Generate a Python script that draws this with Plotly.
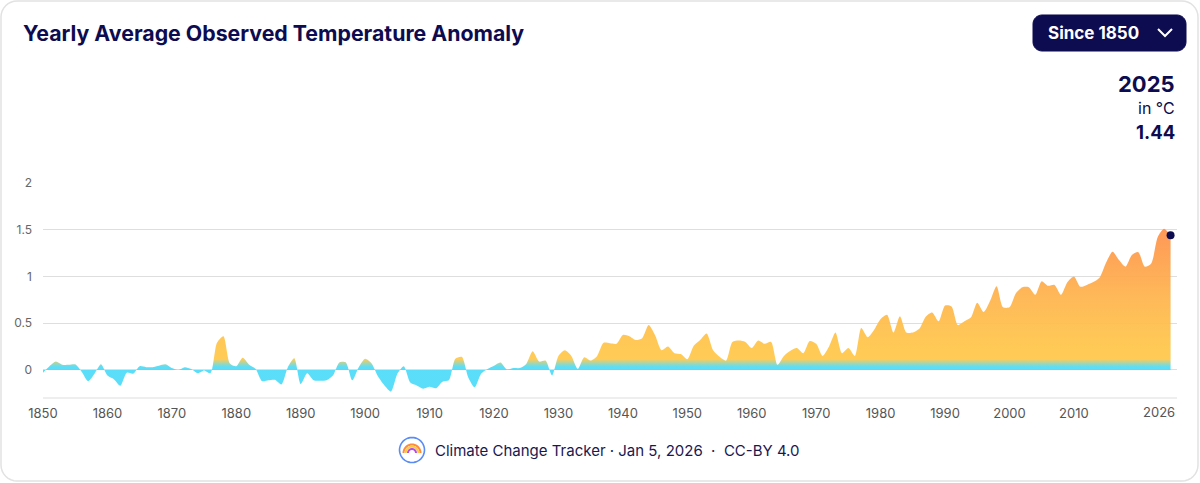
import plotly.graph_objects as go
import math

# ---------------- data ----------------
years = list(range(1850, 2026))
anomaly = [
    # 1850s
    -0.03, 0.04, 0.09, 0.055, 0.055, 0.06, -0.02, -0.12, -0.04, 0.06,
    # 1860s
    -0.06, -0.10, -0.17, -0.03, -0.04, 0.04, 0.03, 0.03, 0.045, 0.06,
    # 1870s
    0.02, 0.0, 0.03, 0.01, -0.035, -0.005, -0.035, 0.29, 0.36, 0.07,
    # 1880s
    0.04, 0.13, 0.055, 0.01, -0.12, -0.11, -0.105, -0.155, 0.03, 0.125,
    # 1890s
    -0.15, -0.035, -0.11, -0.115, -0.11, -0.06, 0.08, 0.08, -0.11, 0.03,
    # 1900s
    0.12, 0.07, -0.07, -0.165, -0.23, -0.04, 0.04, -0.135, -0.165, -0.20,
    # 1910s
    -0.18, -0.195, -0.125, -0.11, 0.12, 0.14, -0.08, -0.185, -0.04, 0.01,
    # 1920s
    0.045, 0.08, 0.005, 0.02, 0.02, 0.065, 0.20, 0.09, 0.10, -0.06,
    # 1930s
    0.15, 0.21, 0.15, 0.01, 0.135, 0.10, 0.15, 0.29, 0.285, 0.28,
    # 1940s
    0.375, 0.36, 0.32, 0.34, 0.48, 0.37, 0.21, 0.25, 0.18, 0.17,
    # 1950s
    0.115, 0.26, 0.32, 0.39, 0.21, 0.14, 0.10, 0.30, 0.315, 0.30,
    # 1960s
    0.235, 0.315, 0.28, 0.30, 0.055, 0.15, 0.205, 0.235, 0.18, 0.31,
    # 1970s
    0.28, 0.15, 0.25, 0.40, 0.18, 0.235, 0.15, 0.45, 0.35, 0.43,
    # 1980s
    0.545, 0.59, 0.40, 0.575, 0.40, 0.40, 0.44, 0.57, 0.615, 0.52,
    # 1990s
    0.69, 0.68, 0.48, 0.52, 0.56, 0.72, 0.62, 0.74, 0.895, 0.67,
    # 2000s
    0.67, 0.82, 0.885, 0.885, 0.805, 0.95, 0.90, 0.91, 0.805, 0.94,
    # 2010s
    1.0, 0.89, 0.91, 0.94, 0.99, 1.15, 1.265, 1.175, 1.105, 1.23,
    # 2020s
    1.26, 1.105, 1.14, 1.42, 1.51, 1.44,
]
latest_year = 2025
latest_value = 1.44
x_tick_vals = [1850, 1860, 1870, 1880, 1890, 1900, 1910, 1920, 1930,
               1940, 1950, 1960, 1970, 1980, 1990, 2000, 2010]
x_end_label = "2026"
y_tick_vals = [0, 0.5, 1, 1.5, 2]
y_tick_text = ["0", "0.5", "1", "1.5", "2"]

# ---------------- geometry ----------------
W, H = 1200, 483
ML, MR, MT, MB = 43, 23, 183, 85
PW, PH = W - ML - MR, H - MT - MB

def px(x):
    return (x - ML) / PW

def py(y):
    return (H - MB - y) / PH

NAVY = "#0E0C50"
FONT = "Inter"

fig = go.Figure()

fig.add_trace(go.Scatter(
    x=years, y=anomaly,
    mode="lines",
    line=dict(width=0, shape="spline", smoothing=0.7, color="rgba(0,0,0,0)"),
    fill="tozeroy",
    fillgradient=dict(
        type="vertical",
        start=-0.3, stop=1.55,
        colorscale=[
            [0.0, "rgba(77,219,248,0.93)"],
            [0.18, "rgba(77,219,248,0.93)"],
            [0.225, "rgba(255,200,74,0.93)"],
            [0.33, "rgba(255,196,74,0.93)"],
            [0.6, "rgba(254,178,76,0.93)"],
            [1.0, "rgba(255,142,74,0.93)"],
        ],
    ),
    hoverinfo="skip",
    showlegend=False,
))

fig.add_trace(go.Scatter(
    x=[latest_year], y=[latest_value],
    mode="markers",
    marker=dict(size=8, color=NAVY),
    hoverinfo="skip",
    showlegend=False,
))

fig.update_xaxes(
    range=[1850, 2026],
    tickvals=x_tick_vals,
    ticktext=[str(v) for v in x_tick_vals],
    showgrid=False, zeroline=False,
    showline=False,
    ticks="", ticklabelstandoff=6,
    tickfont=dict(family=FONT, size=13, color="#555555"),
    fixedrange=True,
)
fig.update_yaxes(
    range=[-0.3, 2.0],
    tickvals=y_tick_vals, ticktext=y_tick_text,
    showgrid=True, gridcolor="#dedede", gridwidth=1.2,
    zeroline=True, zerolinecolor="#dedede", zerolinewidth=1.2,
    showline=False,
    ticks="", ticklabelstandoff=10,
    tickfont=dict(family=FONT, size=12, color="#666666"),
    fixedrange=True,
)

shapes = []
# bottom axis line at range minimum
shapes.append(dict(type="line", xref="paper", yref="paper", x0=0, x1=1, y0=0, y1=0,
                   line=dict(color="#dedede", width=1.2), layer="below"))

# card border (rounded rect)
def rounded_rect(x0, y0, x1, y1, r):
    pts = []
    def arc(cx, cy, a0, a1, n=8):
        for i in range(n + 1):
            a = math.radians(a0 + (a1 - a0) * i / n)
            pts.append((cx + r * math.cos(a), cy + r * math.sin(a)))
    arc(x1 - r, y0 + r, -90, 0)
    arc(x1 - r, y1 - r, 0, 90)
    arc(x0 + r, y1 - r, 90, 180)
    arc(x0 + r, y0 + r, 180, 270)
    d = "M " + " L ".join(f"{px(a):.5f},{py(b):.5f}" for a, b in pts) + " Z"
    return d

shapes.append(dict(type="path", xref="paper", yref="paper",
                   path=rounded_rect(1, 1, 1198, 481, 16),
                   line=dict(color="#e2e2e2", width=1.5), fillcolor="rgba(0,0,0,0)",
                   layer="below"))
# button
shapes.append(dict(type="path", xref="paper", yref="paper",
                   path=rounded_rect(1033, 15, 1186, 51, 9),
                   line=dict(color=NAVY, width=1), fillcolor=NAVY, layer="above"))
# chevron
shapes.append(dict(type="path", xref="paper", yref="paper",
                   path=f"M {px(1158):.5f},{py(29):.5f} L {px(1165):.5f},{py(36):.5f} L {px(1172):.5f},{py(29):.5f}",
                   line=dict(color="white", width=2), layer="above"))

# logo: circle + rainbow arcs
lx, ly = 412, 450
def circle_path(cx, cy, r, a0=0, a1=360, n=40, close=True):
    pts = []
    for i in range(n + 1):
        a = math.radians(a0 + (a1 - a0) * i / n)
        pts.append((cx + r * math.cos(a), cy - r * math.sin(a)))
    d = "M " + " L ".join(f"{px(a):.5f},{py(b):.5f}" for a, b in pts)
    return d + (" Z" if close else "")

shapes.append(dict(type="path", xref="paper", yref="paper",
                   path=circle_path(lx, ly, 12.5), line=dict(color="#5b8cf5", width=1.6),
                   fillcolor="white", layer="above"))
for r, col in [(8.5, "#ff8a3d"), (6.3, "#ffc940"), (4.0, "#b44fe0")]:
    shapes.append(dict(type="path", xref="paper", yref="paper",
                       path=circle_path(lx, ly + 3, r, 0, 180, 20, close=False),
                       line=dict(color=col, width=2), layer="above"))

annotations = [
    dict(text="<b>Yearly Average Observed Temperature Anomaly</b>", xref="paper", yref="paper",
         x=px(21), y=py(33), xanchor="left", yanchor="middle", showarrow=False,
         font=dict(family=FONT, size=21.3, color=NAVY)),
    dict(text="<b>Since 1850</b>", xref="paper", yref="paper",
         x=px(1093), y=py(33), xanchor="center", yanchor="middle", showarrow=False,
         font=dict(family=FONT, size=17, color="white")),
    dict(text="<b>2025</b>", xref="paper", yref="paper",
         x=px(1177), y=py(84), xanchor="right", yanchor="middle", showarrow=False,
         font=dict(family=FONT, size=22, color=NAVY)),
    dict(text="in °C", xref="paper", yref="paper",
         x=px(1177), y=py(108), xanchor="right", yanchor="middle", showarrow=False,
         font=dict(family=FONT, size=16, color=NAVY)),
    dict(text="<b>1.44</b>", xref="paper", yref="paper",
         x=px(1177), y=py(132), xanchor="right", yanchor="middle", showarrow=False,
         font=dict(family=FONT, size=18.5, color=NAVY)),
    dict(text="Climate Change Tracker · Jan 5, 2026  ·  CC-BY 4.0", xref="paper", yref="paper",
         x=px(433), y=py(450), xanchor="left", yanchor="middle", showarrow=False,
         font=dict(family=FONT, size=15, color="#1a1850")),
    dict(text=x_end_label, xref="x", yref="paper",
         x=2026, y=py(412), xanchor="right", yanchor="middle", showarrow=False,
         font=dict(family=FONT, size=13, color="#555555")),
]

fig.update_layout(
    width=W, height=H,
    margin=dict(l=ML, r=MR, t=MT, b=MB, pad=0),
    paper_bgcolor="white", plot_bgcolor="white",
    shapes=shapes, annotations=annotations,
    showlegend=False,
    hovermode=False,
    font=dict(family=FONT),
)

fig.write_html("out.html", config={"displayModeBar": False},
               post_script="document.body.style.margin='0';document.body.style.overflow='hidden';")
